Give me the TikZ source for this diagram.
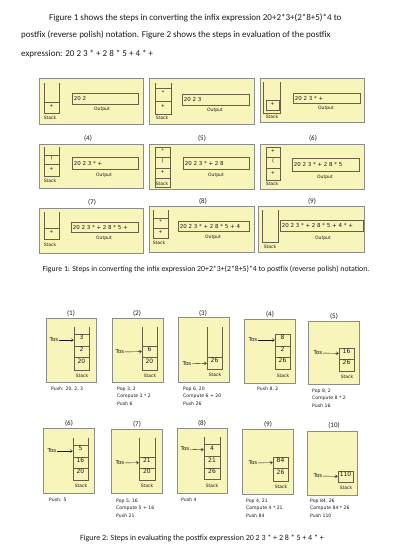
\documentclass[tikz,border=0pt]{standalone}
\usepackage{fontspec}
\setmainfont{Carlito}
\newfontfamily\cfont{DejaVu Sans}
\usetikzlibrary{fit,arrows.meta}
\definecolor{pyel}{RGB}{248,245,186}
\definecolor{pgray}{RGB}{140,140,140}
\definecolor{stkc}{RGB}{105,95,65}
\definecolor{darkc}{RGB}{25,25,25}
\newcommand{\mkbox}[7]{\node[#1, fit={(#2,#3)(#4,#5)}] (#6) {#7};}
\tikzset{
  panel/.style={draw=pgray, fill=pyel, line width=0.9pt, inner sep=0pt},
  stk/.style={draw=stkc, line width=0.6pt},
  cellst/.style={draw=stkc, line width=0.6pt, inner sep=0pt, text=darkc, font=\cfont\fontsize{6}{6}\selectfont},
  fcell/.style={draw=stkc, line width=0.6pt, inner sep=0pt, text=darkc, font=\cfont\fontsize{5}{5}\selectfont},
  lab/.style={font=\cfont\fontsize{4.5}{5}\selectfont, inner sep=0pt, text=darkc},
  outbox/.style={draw=stkc, line width=0.6pt, inner sep=0pt},
  outtxt/.style={font=\cfont\fontsize{5.5}{6}\selectfont, inner sep=0pt, anchor=west, text=darkc},
  tos/.style={font=\cfont\fontsize{5.5}{6}\selectfont, inner sep=0.5pt, text=darkc},
  tosarrow/.style={draw=darkc, line width=0.4pt, -{Straight Barb[length=2pt,width=3pt]}},
  note/.style={font=\cfont\fontsize{4.6}{7.5}\selectfont, anchor=north west, inner sep=0pt, align=left, text=darkc},
  steplab/.style={font=\fontsize{7}{8}\selectfont, inner sep=0pt, text=darkc},
  body/.style={font=\fontsize{9}{11}\selectfont, inner sep=0pt, anchor=base west, text=darkc},
  caption/.style={inner sep=0pt, text=darkc},
}
\begin{document}
\begin{tikzpicture}[x=1pt,y=-1pt]
\useasboundingbox[fill=white] (0,0) rectangle (418,549);
% ---------------- header text
\node[body] (h1) at (49,20) {Figure 1 shows the steps in converting the infix expression 20+2*3+(2*8+5)*4 to};
\node[body] (h2) at (21,37) {postfix (reverse polish) notation. Figure 2 shows the steps in evaluation of the postfix};
\node[body] (h3) at (21,56) {expression: 20 2 3 * + 2 8 * 5 + 4 * +};

% ================= FIGURE 1 =================
% ---- panel 1
\mkbox{panel}{39}{78}{143}{124}{A1}{}
\draw[stk] (44,83) -- (44,113) -- (59,113) -- (59,83);
\mkbox{fcell}{44}{102}{59}{113}{A1c1}{+}
\node[lab] (A1st) at (50,117.5) {Stack};
\mkbox{outbox}{72}{93}{138}{104}{A1o}{}
\node[outtxt] (A1ot) at ([xshift=2pt]A1o.west) {20 2};
\node[lab] (A1ol) at (102,109.5) {Output};
% ---- panel 2
\mkbox{panel}{149}{78}{254}{124}{A2}{}
\draw[stk] (155,83) -- (155,114) -- (171,114) -- (171,83);
\mkbox{fcell}{155}{88}{171}{101}{A2c1}{*}
\mkbox{fcell}{155}{101}{171}{114}{A2c2}{+}
\node[lab] (A2st) at (162,118) {Stack};
\mkbox{outbox}{182}{94}{249}{105}{A2o}{}
\node[outtxt] (A2ot) at ([xshift=2pt]A2o.west) {20 2 3};
\node[lab] (A2ol) at (215,110) {Output};
% ---- panel 3
\mkbox{panel}{260}{78}{364}{122}{A3}{}
\draw[stk] (263,82) -- (263,113) -- (280,113) -- (280,82);
\mkbox{fcell}{266}{100}{279}{110}{A3c1}{+}
\node[lab] (A3st) at (272,117) {Stack};
\mkbox{outbox}{293}{93}{360}{103}{A3o}{}
\node[outtxt] (A3ot) at ([xshift=2pt]A3o.west) {20 2 3 * +};
\node[lab] (A3ol) at (326,108) {Output};

% ---- row 2 labels
\node[steplab] (L4) at (88,138) {(4)};
\node[steplab] (L5) at (202,138) {(5)};
\node[steplab] (L6) at (313,138) {(6)};
% ---- panel 4
\mkbox{panel}{39}{144}{143}{188}{A4}{}
\draw[stk] (44,147) -- (44,176) -- (59,176) -- (59,147);
\mkbox{fcell}{44}{155}{59}{164}{A4c1}{(}
\mkbox{fcell}{44}{164}{59}{176}{A4c2}{+}
\node[lab] (A4st) at (50,181) {Stack};
\mkbox{outbox}{72}{157}{138}{169}{A4o}{}
\node[outtxt] (A4ot) at ([xshift=2pt]A4o.west) {20 2 3 * +};
\node[lab] (A4ol) at (104,175) {Output};
% ---- panel 5
\mkbox{panel}{149}{144}{254}{189}{A5}{}
\mkbox{fcell}{155}{147}{170}{187}{A5frame}{}
\mkbox{fcell}{155}{147}{170}{157}{A5c1}{*}
\mkbox{fcell}{155}{157}{170}{168}{A5c2}{(}
\mkbox{fcell}{155}{168}{170}{178}{A5c3}{+}
\node[lab] (A5st) at (162,183.5) {Stack};
\mkbox{outbox}{183}{157}{249}{169}{A5o}{}
\node[outtxt] (A5ot) at ([xshift=2pt]A5o.west) {20 2 3 * + 2 8};
\node[lab] (A5ol) at (216,175) {Output};
% ---- panel 6
\mkbox{panel}{260}{144}{364}{189}{A6}{}
\mkbox{fcell}{266}{147}{280}{157}{A6c1}{+}
\mkbox{fcell}{266}{157}{280}{168}{A6c2}{(}
\mkbox{fcell}{266}{168}{280}{180}{A6c3}{+}
\node[lab] (A6st) at (272,184) {Stack};
\mkbox{outbox}{292}{158}{359}{171}{A6o}{}
\node[outtxt] (A6ot) at ([xshift=2pt]A6o.west) {20 2 3 * + 2 8 * 5};
\node[lab] (A6ol) at (325,177) {Output};

% ---- row 3 labels
\node[steplab] (L7) at (92,202) {(7)};
\node[steplab] (L8) at (203,201) {(8)};
\node[steplab] (L9) at (312,201) {(9)};
% ---- panel 7
\mkbox{panel}{39}{208}{143}{253}{A7}{}
\draw[stk] (44,212) -- (44,239) -- (59,239) -- (59,212);
\mkbox{fcell}{44}{228}{59}{239}{A7c1}{+}
\node[lab] (A7st) at (50,245) {Stack};
\mkbox{outbox}{71}{222}{138}{232}{A7o}{}
\node[outtxt] (A7ot) at ([xshift=2pt]A7o.west) {20 2 3 * + 2 8 * 5 +};
\node[lab] (A7ol) at (104,238) {Output};
% ---- panel 8
\mkbox{panel}{149}{206}{254}{252}{A8}{}
\draw[stk] (153,210) -- (153,238) -- (168,238) -- (168,210);
\mkbox{fcell}{153}{218}{168}{228}{A8c1}{*}
\mkbox{fcell}{153}{228}{168}{238}{A8c2}{+}
\node[lab] (A8st) at (159,243) {Stack};
\mkbox{outbox}{178}{221}{249}{231}{A8o}{}
\node[outtxt] (A8ot) at ([xshift=2pt]A8o.west) {20 2 3 * + 2 8 * 5 + 4};
\node[lab] (A8ol) at (213,237) {Output};
% ---- panel 9
\mkbox{panel}{258}{206}{364}{252}{A9}{}
\draw[stk] (262,210) -- (262,242) -- (278,242) -- (278,210);
\node[lab] (A9st) at (270,247) {Stack};
\mkbox{outbox}{280}{220}{363}{231}{A9o}{}
\node[outtxt] (A9ot) at ([xshift=2pt]A9o.west) {20 2 3 * + 2 8 * 5 + 4 * +};
\node[lab] (A9ol) at (323,238) {Output};

\node[caption, font=\fontsize{7.8}{8}\selectfont] (cap1) at (206,269) {Figure 1: Steps in converting the infix expression 20+2*3+(2*8+5)*4 to postfix (reverse polish) notation.};

% ================= FIGURE 2 =================
\node[steplab] (M1) at (71,313) {(1)};
\node[steplab] (M2) at (137,313) {(2)};
\node[steplab] (M3) at (203,313) {(3)};
\node[steplab] (M4) at (270,314) {(4)};
\node[steplab] (M5) at (334,316) {(5)};
% ---- eval 1
\mkbox{panel}{46}{318}{96}{382}{B1}{}
\draw[stk] (74,327) -- (74,370) -- (89,370) -- (89,327);
\mkbox{cellst}{74}{334}{89}{346}{B1c1}{3}
\mkbox{cellst}{74}{346}{89}{357}{B1c2}{2}
\mkbox{cellst}{74}{357}{89}{370}{B1c3}{20}
\node[lab] (B1st) at (82,375.5) {Stack};
\node[tos] (B1t) at (54,340) {Tos};
\draw[tosarrow] (B1t) -- (B1c1);
\node[note] (B1n) at (51,387) {Push: 20, 2, 3};
% ---- eval 2
\mkbox{panel}{112}{318}{163}{382}{B2}{}
\draw[stk] (142,327) -- (142,370) -- (157,370) -- (157,327);
\mkbox{cellst}{142}{346}{157}{357}{B2c1}{6}
\mkbox{cellst}{142}{357}{157}{370}{B2c2}{20}
\node[lab] (B2st) at (150,375.5) {Stack};
\node[tos] (B2t) at (120,352) {Tos};
\draw[tosarrow] (B2t) -- (B2c1);
\node[note] (B2n) at (117,386.5) {Pop 3, 2\\Compute 3 * 2\\Push 6};
% ---- eval 3
\mkbox{panel}{178}{317}{229}{382}{B3}{}
\draw[stk] (207,327) -- (207,369) -- (222,369) -- (222,327);
\mkbox{cellst}{207}{357}{222}{369}{B3c1}{26}
\node[lab] (B3st) at (215,375) {Stack};
\node[tos] (B3t) at (187,364) {Tos};
\draw[tosarrow] (B3t) -- (B3c1);
\node[note] (B3n) at (183,386.5) {Pop 6, 20\\Compute 6 + 20\\Push 26};
% ---- eval 4
\mkbox{panel}{244}{319}{295}{383}{B4}{}
\mkbox{cellst}{275}{334}{290}{346}{B4c1}{8}
\mkbox{cellst}{275}{346}{290}{357}{B4c2}{2}
\mkbox{cellst}{275}{357}{290}{369}{B4c3}{26}
\node[lab] (B4st) at (283,376) {Stack};
\node[tos] (B4t) at (253,340) {Tos};
\draw[tosarrow] (B4t) -- (B4c1);
\node[note] (B4n) at (257,386.5) {Push 8, 2};
% ---- eval 5
\mkbox{panel}{308}{321}{359}{384}{B5}{}
\mkbox{cellst}{339}{348}{354}{359}{B5c1}{16}
\mkbox{cellst}{339}{359}{354}{371}{B5c2}{26}
\node[lab] (B5st) at (347,377) {Stack};
\node[tos] (B5t) at (318,353) {Tos};
\draw[tosarrow] (B5t) -- (B5c1);
\node[note] (B5n) at (312,388.5) {Pop 8, 2\\Compute 8 * 2\\Push 16};

\node[steplab] (M6) at (69,423) {(6)};
\node[steplab] (M7) at (137,424) {(7)};
\node[steplab] (M8) at (202,423) {(8)};
\node[steplab] (M9) at (268,424) {(9)};
\node[steplab] (M10) at (334,425) {(10)};
% ---- eval 6
\mkbox{panel}{43}{428}{94}{493}{B6}{}
\draw[stk] (73,438) -- (73,480) -- (88,480) -- (88,438);
\mkbox{cellst}{73}{445}{88}{457}{B6c1}{5}
\mkbox{cellst}{73}{457}{88}{468}{B6c2}{16}
\mkbox{cellst}{73}{468}{88}{480}{B6c3}{20}
\node[lab] (B6st) at (81,486) {Stack};
\node[tos] (B6t) at (52,451) {Tos};
\draw[tosarrow] (B6t) -- (B6c1);
\node[note] (B6n) at (49,497.5) {Push: 5};
% ---- eval 7
\mkbox{panel}{111}{429}{162}{493}{B7}{}
\draw[stk] (139,438) -- (139,480) -- (155,480) -- (155,438);
\mkbox{cellst}{139}{457}{155}{468}{B7c1}{21}
\mkbox{cellst}{139}{468}{155}{480}{B7c2}{20}
\node[lab] (B7st) at (147,486) {Stack};
\node[tos] (B7t) at (120,463) {Tos};
\draw[tosarrow] (B7t) -- (B7c1);
\node[note] (B7n) at (116,498.5) {Pop 5, 16\\Compute 5 + 16\\Push 21};
% ---- eval 8
\mkbox{panel}{177}{428}{227}{493}{B8}{}
\draw[stk] (204,437) -- (204,479) -- (220,479) -- (220,437);
\mkbox{cellst}{204}{444}{220}{456}{B8c1}{4}
\mkbox{cellst}{204}{456}{220}{468}{B8c2}{21}
\mkbox{cellst}{204}{468}{220}{479}{B8c3}{26}
\node[lab] (B8st) at (212,486) {Stack};
\node[tos] (B8t) at (185,449) {Tos};
\draw[tosarrow] (B8t) -- (B8c1);
\node[note] (B8n) at (181,497.5) {Push 4};
% ---- eval 9
\mkbox{panel}{242}{429}{293}{494}{B9}{}
\mkbox{cellst}{273}{457}{288}{468}{B9c1}{84}
\mkbox{cellst}{273}{468}{288}{481}{B9c2}{26}
\node[lab] (B9st) at (281,487) {Stack};
\node[tos] (B9t) at (253,463) {Tos};
\draw[tosarrow] (B9t) -- (B9c1);
\node[note] (B9n) at (246,498.5) {Pop 4, 21\\Compute 4 * 21\\Push 84};
% ---- eval 10
\mkbox{panel}{307}{431}{357}{495}{B10}{}
\mkbox{cellst}{338}{471}{353}{482}{B10c1}{110}
\node[lab] (B10st) at (346,487.5) {Stack};
\node[tos] (B10t) at (318,476) {Tos};
\draw[tosarrow] (B10t) -- (B10c1);
\node[note] (B10n) at (310,498.5) {Pop 84, 26\\Compute 84 * 26\\Push 110};

\node[caption, font=\fontsize{8}{9}\selectfont] (cap2) at (202,538) {Figure 2: Steps in evaluating the postfix expression 20 2 3 * + 2 8 * 5 + 4 * +};
\end{tikzpicture}
\end{document}
